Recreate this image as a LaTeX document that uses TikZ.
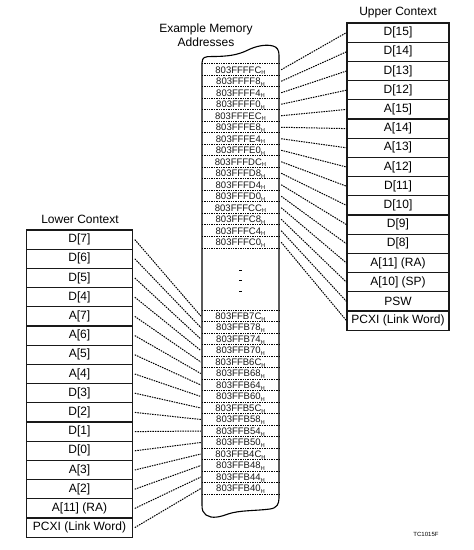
\documentclass[tikz,border=0pt]{standalone}
\usepackage{fontspec}
\setmainfont{Liberation Sans}
\newcommand{\hsub}{\raisebox{-1.8pt}{\fontsize{5.8}{6}\selectfont H}}
\begin{document}
\begin{tikzpicture}[x=1pt,y=-1pt,
  ctx/.style={draw=black!90, line width=1.1pt, minimum height=19.2pt, inner sep=0pt, font=\fontsize{12}{13}\selectfont},
  addr/.style={minimum width=77pt, minimum height=11.5pt, inner sep=0pt, text height=6.8pt, text depth=0pt, text=black!90, font=\fontsize{9.5}{10}\selectfont},
  link/.style={line width=1pt, dash pattern=on 1.5pt off 1pt},
  sep/.style={line width=0.9pt, dash pattern=on 1.3pt off 1.1pt},
  lab/.style={font=\fontsize{12}{14}\selectfont, inner sep=0pt}]
\useasboundingbox (0,0) rectangle (474,550);

% memory column
\draw[line width=1.1pt] (202,505) -- (202,63)
 .. controls (202,57) and (205,56.5) .. (212,56.5)
 .. controls (228,56.5) and (238,55) .. (248,50)
 .. controls (256,46) and (266,44) .. (273,46)
 .. controls (277,47) and (279,50) .. (279,55)
 -- (279,498)
 .. controls (279,504) and (277,508) .. (270,509)
 .. controls (255,511) and (240,510) .. (228,514)
 .. controls (220,517) and (212,519) .. (206,515)
 .. controls (203,513) and (202,510) .. (202,505)
 -- cycle;

% upper address rows
\foreach \a [count=\i from 0] in {FFFC,FFF8,FFF4,FFF0,FFEC,FFE8,FFE4,FFE0,FFDC,FFD8,FFD4,FFD0,FFCC,FFC8,FFC4,FFC0} {
  \node[addr] (u\i) at (240.5,{69.75+11.5*\i}) {803F\a\hsub};
  \draw[sep] (u\i.north west) -- (u\i.north east);
}
\draw[sep] (u15.south west) -- (u15.south east);

% lower address rows
\foreach \a [count=\i from 0] in {FB7C,FB78,FB74,FB70,FB6C,FB68,FB64,FB60,FB5C,FB58,FB54,FB50,FB4C,FB48,FB44,FB40} {
  \node[addr] (d\i) at (240.5,{316+11.5*\i}) {803F\a\hsub};
  \draw[sep] (d\i.north west) -- (d\i.north east);
}
\draw[sep] (d15.south west) -- (d15.south east);

% ellipsis dots
\draw[line width=0.9pt] (239,270) -- (241.5,270);
\draw[line width=0.9pt] (239,280.5) -- (241.5,280.5);
\draw[line width=0.9pt] (239,291) -- (241.5,291);

% upper context
\foreach \t [count=\i from 0] in {D[15],D[14],D[13],D[12],A[15],A[14],A[13],A[12],D[11],D[10],D[9],D[8],A[11] (RA),A[10] (SP),PSW,PCXI (Link Word)} {
  \node[ctx, minimum width=102pt] (r\i) at (398,{32.6+19.2*\i}) {\t};
}
% lower context
\foreach \t [count=\i from 0] in {D[7],D[6],D[5],D[4],A[7],A[6],A[5],A[4],D[3],D[2],D[1],D[0],A[3],A[2],A[11] (RA),PCXI (Link Word)} {
  \node[ctx, minimum width=105.5pt] (l\i) at (79.5,{239.6+19.2*\i}) {\t};
}

% connectors
\foreach \i in {0,...,15} {
  \draw[link] ([xshift=2pt]u\i.east) -- (r\i.west);
  \draw[link] ([xshift=2pt]l\i.east) -- ([xshift=-1pt]d\i.west);
}

% labels
\node[lab] (ulab) at (398,13) {Upper Context};
\node[lab] (llab) at (80,219) {Lower Context};
\node[lab, align=center] (mlab) at (206,35) {Example Memory\\Addresses};
\node[font=\fontsize{6}{7}\selectfont, inner sep=0pt] (tc) at (426,534) {TC1015F};
\end{tikzpicture}
\end{document}
